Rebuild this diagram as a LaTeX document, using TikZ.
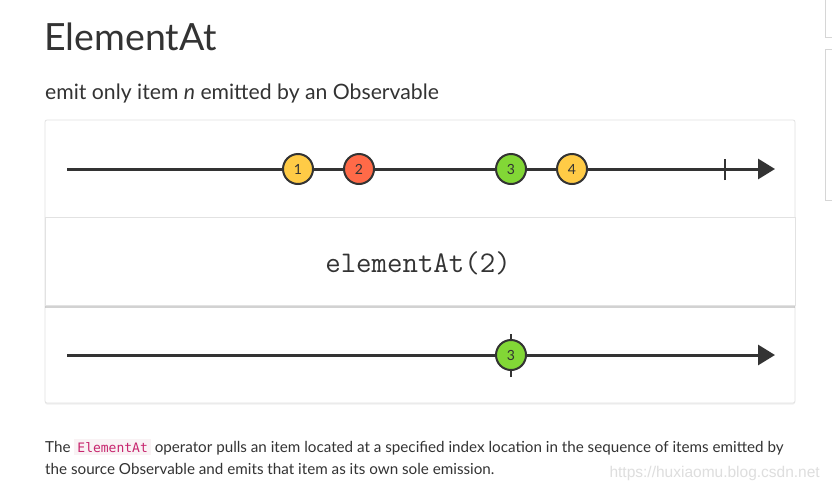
\documentclass[tikz,border=0pt]{standalone}
\usepackage{fontspec}
\setmainfont{Lato}
\newfontfamily\codefont{DejaVu Sans Mono}
\newfontfamily\markfont{Liberation Sans}
\usetikzlibrary{arrows.meta,shadows,positioning}
\definecolor{inkgray}{RGB}{51,51,51}
\definecolor{cardline}{RGB}{226,226,226}
\definecolor{sideline}{RGB}{214,214,214}
\definecolor{marbleyellow}{RGB}{255,203,70}
\definecolor{marblered}{RGB}{255,106,72}
\definecolor{marblegreen}{RGB}{130,215,54}
\definecolor{codepink}{RGB}{199,37,110}
\definecolor{codebg}{RGB}{249,242,244}
\definecolor{watermark}{RGB}{222,222,222}

\tikzset{
	timeline/.style={line width=3pt, color=inkgray, -{Triangle[length=17pt,width=20pt]}},
	marble/.style={circle, draw=inkgray, line width=2pt, minimum size=30pt, inner sep=0pt,
		font=\fontsize{14}{14}\selectfont, text=inkgray},
	endtick/.style={line width=2pt, color=inkgray},
	card/.style={draw=cardline, fill=white, line width=0.8pt, rounded corners=2pt,
		drop shadow={opacity=0.12, shadow xshift=0pt, shadow yshift=-1.5pt}},
	opbox/.style={draw=cardline, fill=white, line width=0.8pt,
		drop shadow={opacity=0.35, shadow xshift=0pt, shadow yshift=-3pt}},
}

\begin{document}
\begin{tikzpicture}[x=1pt, y=-1pt]

	\useasboundingbox[fill=white] (0,0) rectangle (832,493);

	% page side frames
	\draw[sideline, line width=0.8pt] (840,37) -- (825,37) -- (825,0);
	\draw[sideline, line width=0.8pt] (840,49) -- (825,49) -- (825,200) -- (840,200);

	% heading
	\node[anchor=base west, inner sep=0pt, text=inkgray, font=\fontsize{37.5}{37.5}\selectfont] (title) at (44,50) {ElementAt};
	\node[anchor=base west, inner sep=0pt, text=inkgray, font=\fontsize{21.2}{21.2}\selectfont] (subtitle) at (45,99) {emit only item \textit{n} emitted by an Observable};

	% marble card
	\path[card] (45,120) rectangle (795,403);

	% source stream
	\coordinate (srcstart) at (67,169);
	\coordinate (srcend) at (775,169);
	\draw[timeline] (srcstart) -- (srcend);
	\coordinate (done) at (725,169);
	\draw[endtick] ([yshift=-11pt]done) -- ([yshift=10pt]done);

	\node[marble, fill=marbleyellow] (m1) at (298,169) {1};
	\node[marble, fill=marblered] (m2) at (359,169) {2};
	\node[marble, fill=marblegreen] (m3) at (511,169) {3};
	\node[marble, fill=marbleyellow] (m4) at (572,169) {4};

	% operator box
	\path[opbox] (45,217) rectangle (795,305);
	\node[text=inkgray, font=\ttfamily\fontsize{30}{30}\selectfont] (op) at (418,263) {elementAt(2)};

	% result stream
	\coordinate (outstart) at (67,355);
	\coordinate (outend) at (775,355);
	\draw[timeline] (outstart) -- (outend);
	\coordinate (hit) at (511,355);
	\draw[endtick] ([yshift=-22pt]hit) -- ([yshift=21pt]hit);
	\node[marble, fill=marblegreen] (r3) at (hit) {3};

	% description
	\node[anchor=base west, inner sep=0pt, text=inkgray, font=\fontsize{15.2}{15.2}\selectfont] (descA) at (45,452)
		{The \colorbox{codebg}{\textcolor{codepink}{\codefont\fontsize{13}{13}\selectfont ElementAt}} operator pulls an item located at a specified index location in the sequence of items emitted by};
	\node[anchor=base west, inner sep=0pt, text=inkgray, font=\fontsize{15.2}{15.2}\selectfont] (descB) at (45,474)
		{the source Observable and emits that item as its own sole emission.};

	% watermark
	\node[anchor=base east, inner sep=0pt, text=watermark, font=\markfont\fontsize{15.5}{15.5}\selectfont] (wm) at (820,477) {https://huxiaomu.blog.csdn.net};

\end{tikzpicture}
\end{document}
